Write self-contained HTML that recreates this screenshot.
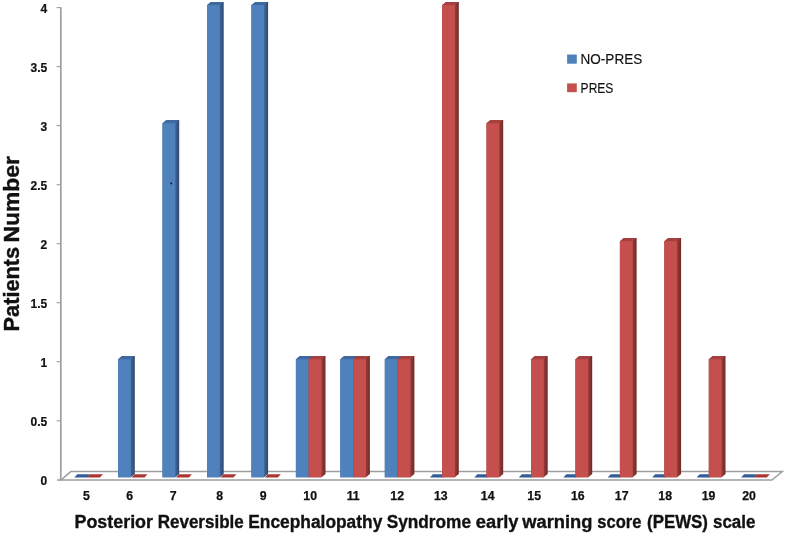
<!DOCTYPE html>
<html lang="en"><head><meta charset="utf-8"><title>PEWS scale chart</title>
<style>html,body{margin:0;padding:0;background:#fff;}svg{display:block;}</style></head>
<body>
<svg width="785" height="533" viewBox="0 0 785 533">
<defs><filter id="b" x="-5%" y="-5%" width="110%" height="110%"><feGaussianBlur stdDeviation="0.5"/></filter><linearGradient id="gb" x1="0" y1="0" x2="1" y2="0"><stop offset="0.75" stop-color="#3f6596"/><stop offset="1" stop-color="#2d4a72"/></linearGradient><linearGradient id="gr" x1="0" y1="0" x2="1" y2="0"><stop offset="0.75" stop-color="#993c39"/><stop offset="1" stop-color="#6d2a28"/></linearGradient></defs>
<rect width="785" height="533" fill="#fff"/>
<g filter="url(#b)">
<polygon points="61,480 70.8,471.6 782.3,471.6 771.9,480" fill="#fff" stroke="#9e9e9e" stroke-width="1.5" stroke-linejoin="miter"/>
<line x1="57" y1="480" x2="62" y2="480" stroke="#9e9e9e" stroke-width="1.5"/>
<line x1="60.8" y1="7.2" x2="60.8" y2="480" stroke="#9e9e9e" stroke-width="1.7"/>
<line x1="56.6" y1="420.8" x2="60.8" y2="420.8" stroke="#9e9e9e" stroke-width="1.1"/>
<line x1="56.6" y1="361.7" x2="60.8" y2="361.7" stroke="#9e9e9e" stroke-width="1.1"/>
<line x1="56.6" y1="302.7" x2="60.8" y2="302.7" stroke="#9e9e9e" stroke-width="1.1"/>
<line x1="56.6" y1="243.7" x2="60.8" y2="243.7" stroke="#9e9e9e" stroke-width="1.1"/>
<line x1="56.6" y1="184.7" x2="60.8" y2="184.7" stroke="#9e9e9e" stroke-width="1.1"/>
<line x1="56.6" y1="125.6" x2="60.8" y2="125.6" stroke="#9e9e9e" stroke-width="1.1"/>
<line x1="56.6" y1="66.6" x2="60.8" y2="66.6" stroke="#9e9e9e" stroke-width="1.1"/>
<line x1="56.6" y1="7.6" x2="60.8" y2="7.6" stroke="#9e9e9e" stroke-width="1.1"/>
<polygon points="74.3,477.4 87.2,477.4 90.2,474.2 77.3,474.2" fill="#305d97"/>
<polygon points="87.1,477.4 100.0,477.4 103.0,474.2 90.1,474.2" fill="#ab3431"/>
<polygon points="118.0,477.3 130.9,477.3 134.8,474.1 134.8,356.1 122.0,356.1 118.0,359.2" fill="url(#gb)"/>
<polygon points="118.0,359.6 130.9,359.6 134.2,356.1 122.0,356.1" fill="#3f6a9f"/>
<rect x="118.0" y="359.2" width="12.8" height="118.1" fill="#4f81bd"/>
<polygon points="131.6,477.4 144.5,477.4 147.5,474.2 134.6,474.2" fill="#ab3431"/>
<polygon points="162.5,477.3 175.3,477.3 179.2,474.1 179.2,120.0 166.4,120.0 162.5,123.2" fill="url(#gb)"/>
<polygon points="162.5,123.5 175.3,123.5 178.7,120.0 166.4,120.0" fill="#3f6a9f"/>
<rect x="162.5" y="123.2" width="12.8" height="354.1" fill="#4f81bd"/>
<polygon points="176.0,477.4 188.9,477.4 191.9,474.2 179.0,474.2" fill="#ab3431"/>
<polygon points="207.0,477.3 219.8,477.3 223.7,474.1 223.7,1.9 210.9,1.9 207.0,5.1" fill="url(#gb)"/>
<polygon points="207.0,5.4 219.8,5.4 223.1,1.9 210.9,1.9" fill="#3f6a9f"/>
<rect x="207.0" y="5.1" width="12.8" height="472.2" fill="#4f81bd"/>
<polygon points="220.5,477.4 233.4,477.4 236.4,474.2 223.5,474.2" fill="#ab3431"/>
<polygon points="251.4,477.3 264.2,477.3 268.1,474.1 268.1,1.9 255.3,1.9 251.4,5.1" fill="url(#gb)"/>
<polygon points="251.4,5.4 264.2,5.4 267.5,1.9 255.3,1.9" fill="#3f6a9f"/>
<rect x="251.4" y="5.1" width="12.8" height="472.2" fill="#4f81bd"/>
<polygon points="264.9,477.4 277.8,477.4 280.8,474.2 267.9,474.2" fill="#ab3431"/>
<polygon points="295.9,477.3 308.7,477.3 312.6,474.1 312.6,356.1 299.8,356.1 295.9,359.2" fill="url(#gb)"/>
<polygon points="295.9,359.6 308.7,359.6 312.0,356.1 299.8,356.1" fill="#3f6a9f"/>
<rect x="295.9" y="359.2" width="12.8" height="118.1" fill="#4f81bd"/>
<polygon points="308.7,477.3 321.6,477.3 325.5,474.1 325.5,356.1 312.6,356.1 308.7,359.2" fill="url(#gr)"/>
<polygon points="308.7,359.6 321.6,359.6 324.9,356.1 312.6,356.1" fill="#a5413f"/>
<rect x="308.7" y="359.2" width="12.8" height="118.1" fill="#c4504d"/>
<polygon points="340.3,477.3 353.2,477.3 357.1,474.1 357.1,356.1 344.2,356.1 340.3,359.2" fill="url(#gb)"/>
<polygon points="340.3,359.6 353.2,359.6 356.5,356.1 344.2,356.1" fill="#3f6a9f"/>
<rect x="340.3" y="359.2" width="12.8" height="118.1" fill="#4f81bd"/>
<polygon points="353.2,477.3 366.0,477.3 369.9,474.1 369.9,356.1 357.1,356.1 353.2,359.2" fill="url(#gr)"/>
<polygon points="353.2,359.6 366.0,359.6 369.3,356.1 357.1,356.1" fill="#a5413f"/>
<rect x="353.2" y="359.2" width="12.8" height="118.1" fill="#c4504d"/>
<polygon points="384.8,477.3 397.6,477.3 401.5,474.1 401.5,356.1 388.6,356.1 384.8,359.2" fill="url(#gb)"/>
<polygon points="384.8,359.6 397.6,359.6 400.9,356.1 388.6,356.1" fill="#3f6a9f"/>
<rect x="384.8" y="359.2" width="12.8" height="118.1" fill="#4f81bd"/>
<polygon points="397.6,477.3 410.5,477.3 414.4,474.1 414.4,356.1 401.5,356.1 397.6,359.2" fill="url(#gr)"/>
<polygon points="397.6,359.6 410.5,359.6 413.8,356.1 401.5,356.1" fill="#a5413f"/>
<rect x="397.6" y="359.2" width="12.8" height="118.1" fill="#c4504d"/>
<polygon points="429.9,477.4 442.8,477.4 445.8,474.2 432.9,474.2" fill="#305d97"/>
<polygon points="442.1,477.3 454.9,477.3 458.8,474.1 458.8,1.9 446.0,1.9 442.1,5.1" fill="url(#gr)"/>
<polygon points="442.1,5.4 454.9,5.4 458.2,1.9 446.0,1.9" fill="#a5413f"/>
<rect x="442.1" y="5.1" width="12.8" height="472.2" fill="#c4504d"/>
<polygon points="474.3,477.4 487.2,477.4 490.2,474.2 477.3,474.2" fill="#305d97"/>
<polygon points="486.5,477.3 499.4,477.3 503.2,474.1 503.2,120.0 490.4,120.0 486.5,123.2" fill="url(#gr)"/>
<polygon points="486.5,123.5 499.4,123.5 502.6,120.0 490.4,120.0" fill="#a5413f"/>
<rect x="486.5" y="123.2" width="12.8" height="354.1" fill="#c4504d"/>
<polygon points="518.8,477.4 531.7,477.4 534.7,474.2 521.8,474.2" fill="#305d97"/>
<polygon points="531.0,477.3 543.8,477.3 547.7,474.1 547.7,356.1 534.9,356.1 531.0,359.2" fill="url(#gr)"/>
<polygon points="531.0,359.6 543.8,359.6 547.1,356.1 534.9,356.1" fill="#a5413f"/>
<rect x="531.0" y="359.2" width="12.8" height="118.1" fill="#c4504d"/>
<polygon points="563.3,477.4 576.2,477.4 579.2,474.2 566.3,474.2" fill="#305d97"/>
<polygon points="575.4,477.3 588.3,477.3 592.2,474.1 592.2,356.1 579.3,356.1 575.4,359.2" fill="url(#gr)"/>
<polygon points="575.4,359.6 588.3,359.6 591.6,356.1 579.3,356.1" fill="#a5413f"/>
<rect x="575.4" y="359.2" width="12.8" height="118.1" fill="#c4504d"/>
<polygon points="607.7,477.4 620.6,477.4 623.6,474.2 610.7,474.2" fill="#305d97"/>
<polygon points="619.9,477.3 632.7,477.3 636.6,474.1 636.6,238.0 623.8,238.0 619.9,241.2" fill="url(#gr)"/>
<polygon points="619.9,241.5 632.7,241.5 636.0,238.0 623.8,238.0" fill="#a5413f"/>
<rect x="619.9" y="241.2" width="12.8" height="236.1" fill="#c4504d"/>
<polygon points="652.2,477.4 665.1,477.4 668.1,474.2 655.2,474.2" fill="#305d97"/>
<polygon points="664.3,477.3 677.2,477.3 681.1,474.1 681.1,238.0 668.2,238.0 664.3,241.2" fill="url(#gr)"/>
<polygon points="664.3,241.5 677.2,241.5 680.5,238.0 668.2,238.0" fill="#a5413f"/>
<rect x="664.3" y="241.2" width="12.8" height="236.1" fill="#c4504d"/>
<polygon points="696.6,477.4 709.5,477.4 712.5,474.2 699.6,474.2" fill="#305d97"/>
<polygon points="708.8,477.3 721.6,477.3 725.5,474.1 725.5,356.1 712.7,356.1 708.8,359.2" fill="url(#gr)"/>
<polygon points="708.8,359.6 721.6,359.6 724.9,356.1 712.7,356.1" fill="#a5413f"/>
<rect x="708.8" y="359.2" width="12.8" height="118.1" fill="#c4504d"/>
<polygon points="741.1,477.4 754.0,477.4 757.0,474.2 744.1,474.2" fill="#305d97"/>
<polygon points="753.9,477.4 766.8,477.4 769.8,474.2 756.9,474.2" fill="#ab3431"/>
<circle cx="171.3" cy="183.4" r="0.9" fill="#0a0a14"/>
<rect x="567.1" y="54.5" width="9.7" height="9.2" fill="#4f81bd"/>
<rect x="567.1" y="83.4" width="9.7" height="8.8" fill="#c4504d"/>
</g>
<g font-family="'Liberation Sans', sans-serif" fill="#111">
<text x="580.6" y="64.2" font-size="14" textLength="61.6" stroke="#111" stroke-width="0.15" lengthAdjust="spacingAndGlyphs">NO-PRES</text>
<text x="580.6" y="92.8" font-size="14" textLength="32.8" stroke="#111" stroke-width="0.15" lengthAdjust="spacingAndGlyphs">PRES</text>
<g font-weight="bold" font-size="12" text-anchor="end" stroke="#111" stroke-width="0.2">
<text x="47.2" y="485.0">0</text>
<text x="47.2" y="426.0">0.5</text>
<text x="47.2" y="366.9">1</text>
<text x="47.2" y="307.9">1.5</text>
<text x="47.2" y="248.9">2</text>
<text x="47.2" y="189.9">2.5</text>
<text x="47.2" y="130.8">3</text>
<text x="47.2" y="71.8">3.5</text>
<text x="47.2" y="12.8">4</text>
</g>
<g font-weight="bold" font-size="12.3" text-anchor="middle" stroke="#111" stroke-width="0.25">
<text x="86.30" y="500.2">5</text>
<text x="129.60" y="500.2">6</text>
<text x="173.10" y="500.2">7</text>
<text x="219.60" y="500.2">8</text>
<text x="263.20" y="500.2">9</text>
<text x="310.20" y="500.2">10</text>
<text x="353.20" y="500.2">11</text>
<text x="397.20" y="500.2">12</text>
<text x="440.80" y="500.2">13</text>
<text x="487.70" y="500.2">14</text>
<text x="534.20" y="500.2">15</text>
<text x="577.80" y="500.2">16</text>
<text x="621.70" y="500.2">17</text>
<text x="665.20" y="500.2">18</text>
<text x="708.50" y="500.2">19</text>
<text x="749.10" y="500.2">20</text>
</g>
<g font-weight="bold" font-size="18" stroke="#111" stroke-width="0.35">
<text x="74.50" y="527.6" textLength="78.50" lengthAdjust="spacingAndGlyphs">Posterior</text>
<text x="157.70" y="527.6" textLength="86.10" lengthAdjust="spacingAndGlyphs">Reversible</text>
<text x="248.30" y="527.6" textLength="134.00" lengthAdjust="spacingAndGlyphs">Encephalopathy</text>
<text x="386.70" y="527.6" textLength="84.30" lengthAdjust="spacingAndGlyphs">Syndrome</text>
<text x="475.80" y="527.6" textLength="42.70" lengthAdjust="spacingAndGlyphs">early</text>
<text x="522.30" y="527.6" textLength="70.20" lengthAdjust="spacingAndGlyphs">warning</text>
<text x="597.30" y="527.6" textLength="44.10" lengthAdjust="spacingAndGlyphs">score</text>
<text x="647.00" y="527.6" textLength="61.00" lengthAdjust="spacingAndGlyphs">(PEWS)</text>
<text x="713.00" y="527.6" textLength="42.40" lengthAdjust="spacingAndGlyphs">scale</text>
</g>
<g font-weight="bold" font-size="22.5" stroke="#111" stroke-width="0.4">
<text transform="translate(18.9,331.4) rotate(-90)" textLength="84.6" lengthAdjust="spacingAndGlyphs">Patients</text>
<text transform="translate(18.9,242.4) rotate(-90)" textLength="86.3" lengthAdjust="spacingAndGlyphs">Number</text>
</g>
</g>
</svg>
</body></html>
